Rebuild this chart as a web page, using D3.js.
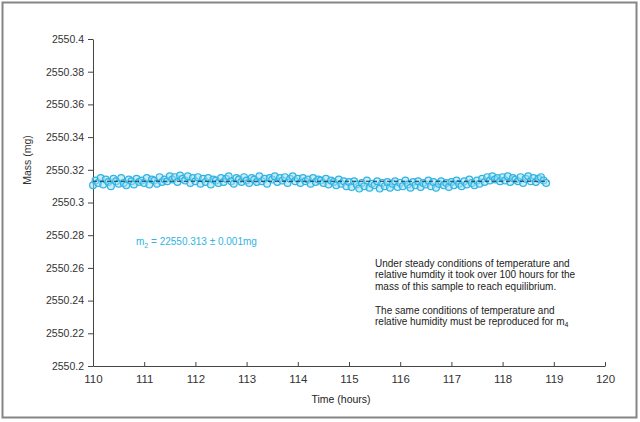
<!DOCTYPE html>
<html>
<head>
    <title>Mass vs time</title>
    <script src="https://d3js.org/d3.v7.min.js"></script>
    <style>
        body {
            margin: 0;
            background: #fff;
            font-family: Arial, "Liberation Sans", sans-serif;
        }
        .tick text {
            fill: #333;
        }
        .note {
            font-size: 10px;
            fill: #222;
        }
    </style>
</head>
<body>
<div id="chart"></div>
<script>
    // sampling: one reading every 3 minutes from t = 110 h
    const startTime = 110;
    const sampleStep = 0.05;

    // mass readings (mg)
    const massValues = [
        2550.3105, 2550.3135, 2550.3120, 2550.3150, 2550.3110, 2550.3140, 2550.3125, 2550.3100, 2550.3145, 2550.3130,
        2550.3115, 2550.3150, 2550.3120, 2550.3105, 2550.3140, 2550.3130, 2550.3110, 2550.3145, 2550.3125, 2550.3135,
        2550.3120, 2550.3150, 2550.3110, 2550.3140, 2550.3135, 2550.3115, 2550.3155, 2550.3125, 2550.3140, 2550.3130,
        2550.3160, 2550.3140, 2550.3155, 2550.3125, 2550.3165, 2550.3145, 2550.3135, 2550.3160, 2550.3120, 2550.3150,
        2550.3130, 2550.3155, 2550.3115, 2550.3145, 2550.3125, 2550.3150, 2550.3110, 2550.3140, 2550.3135, 2550.3120,
        2550.3150, 2550.3125, 2550.3145, 2550.3160, 2550.3130, 2550.3115, 2550.3150, 2550.3140, 2550.3125, 2550.3155,
        2550.3135, 2550.3120, 2550.3150, 2550.3140, 2550.3125, 2550.3160, 2550.3130, 2550.3145, 2550.3115, 2550.3150,
        2550.3140, 2550.3160, 2550.3125, 2550.3150, 2550.3135, 2550.3155, 2550.3120, 2550.3145, 2550.3160, 2550.3130,
        2550.3145, 2550.3120, 2550.3150, 2550.3130, 2550.3140, 2550.3115, 2550.3150, 2550.3125, 2550.3140, 2550.3135,
        2550.3120, 2550.3145, 2550.3110, 2550.3135, 2550.3125, 2550.3105, 2550.3140, 2550.3115, 2550.3130, 2550.3100,
        2550.3125, 2550.3095, 2550.3130, 2550.3110, 2550.3085, 2550.3120, 2550.3100, 2550.3135, 2550.3090, 2550.3115,
        2550.3105, 2550.3130, 2550.3085, 2550.3120, 2550.3100, 2550.3125, 2550.3090, 2550.3115, 2550.3130, 2550.3095,
        2550.3120, 2550.3100, 2550.3135, 2550.3110, 2550.3090, 2550.3125, 2550.3105, 2550.3130, 2550.3095, 2550.3120,
        2550.3110, 2550.3135, 2550.3100, 2550.3125, 2550.3090, 2550.3115, 2550.3130, 2550.3105, 2550.3120, 2550.3095,
        2550.3125, 2550.3105, 2550.3135, 2550.3115, 2550.3100, 2550.3130, 2550.3110, 2550.3140, 2550.3120, 2550.3105,
        2550.3135, 2550.3115, 2550.3145, 2550.3125, 2550.3155, 2550.3135, 2550.3160, 2550.3140, 2550.3150, 2550.3130,
        2550.3155, 2550.3135, 2550.3160, 2550.3125, 2550.3150, 2550.3140, 2550.3130, 2550.3155, 2550.3120, 2550.3145,
        2550.3160, 2550.3130, 2550.3150, 2550.3125, 2550.3145, 2550.3155, 2550.3135, 2550.3120
    ];

    const equilibriumMass = 2550.313;
    const equilibriumEnd = 118.9;

    const xTicks = [110, 111, 112, 113, 114, 115, 116, 117, 118, 119, 120];
    const yTicks = [2550.2, 2550.22, 2550.24, 2550.26, 2550.28, 2550.3, 2550.32, 2550.34, 2550.36, 2550.38, 2550.4];

    const noteLines1 = [
        "Under steady conditions of temperature and",
        "relative humdity it took over 100 hours for the",
        "mass of this sample to reach equilibrium."
    ];
    const noteLines2 = [
        "The same conditions of temperature and",
        "relative humidity must be reproduced for m"
    ];

    const width = 640, height = 422;
    const margin = {left: 93, right: 35, top: 39, bottom: 56};

    const svg = d3.select("#chart").append("svg")
        .attr("width", width)
        .attr("height", height);

    // outer frame
    svg.append("rect")
        .attr("x", 2.5).attr("y", 2.5)
        .attr("width", 634).attr("height", 415)
        .attr("fill", "none")
        .attr("stroke", "#858585")
        .attr("stroke-width", 2);

    const x = d3.scaleLinear().domain([110, 120]).range([margin.left, width - margin.right]);
    const y = d3.scaleLinear().domain([2550.2, 2550.4]).range([height - margin.bottom, margin.top]);

    const points = massValues.map((m, i) => ({t: startTime + i * sampleStep, m: m}));

    // axes
    const xAxis = svg.append("g")
        .attr("transform", `translate(0,${y(2550.2)})`)
        .call(d3.axisBottom(x).tickValues(xTicks).tickFormat(d3.format("d")).tickSizeInner(-4).tickSizeOuter(0).tickPadding(9));
    xAxis.selectAll("text").style("font-size", "11.5px");

    const yAxis = svg.append("g")
        .attr("transform", `translate(${x(110)},0)`)
        .call(d3.axisLeft(y).tickValues(yTicks).tickFormat(d => d3.format(".2~f")(d)).tickSize(5).tickSizeOuter(0).tickPadding(4));
    yAxis.selectAll("text").style("font-size", "10.5px");

    svg.selectAll(".domain, .tick line").attr("stroke", "#444").attr("stroke-width", 1);

    // data points
    svg.append("g")
        .selectAll("circle")
        .data(points)
        .enter()
        .append("circle")
        .attr("cx", d => x(d.t))
        .attr("cy", d => y(d.m))
        .attr("r", 3.4)
        .attr("fill", "#9edcf3")
        .attr("fill-opacity", 0.55)
        .attr("stroke", "#2fb4e2")
        .attr("stroke-width", 1.2);

    // equilibrium line
    svg.append("line")
        .attr("x1", x(110)).attr("x2", x(equilibriumEnd))
        .attr("y1", y(equilibriumMass)).attr("y2", y(equilibriumMass))
        .attr("stroke", "#1d3550")
        .attr("stroke-width", 1.2)
        .attr("stroke-dasharray", "4,3");

    // axis titles
    svg.append("text")
        .attr("x", 341).attr("y", 403)
        .attr("text-anchor", "middle")
        .style("font-size", "10.5px")
        .attr("fill", "#222")
        .text("Time (hours)");

    svg.append("text")
        .attr("transform", "translate(31,160) rotate(-90)")
        .attr("text-anchor", "middle")
        .style("font-size", "10.5px")
        .attr("fill", "#333")
        .text("Mass (mg)");

    // m2 annotation
    const mText = svg.append("text")
        .attr("x", 136).attr("y", 245)
        .style("font-size", "10px")
        .attr("fill", "#2fb4e2");
    mText.append("tspan").text("m");
    mText.append("tspan").attr("dy", 3).style("font-size", "7px").text("2");
    mText.append("tspan").attr("dy", -3).text(" = 22550.313 \u00b1 0.001mg");

    // notes
    const note = svg.append("g").attr("class", "note");
    noteLines1.forEach((line, i) => {
        note.append("text").attr("x", 375).attr("y", 267 + i * 11.3).text(line);
    });
    noteLines2.forEach((line, i) => {
        const t = note.append("text").attr("x", 375).attr("y", 314 + i * 11.3).text(line);
        if (i === noteLines2.length - 1) {
            t.append("tspan").attr("dy", 2).style("font-size", "7px").text("4");
        }
    });
</script>
</body>
</html>
